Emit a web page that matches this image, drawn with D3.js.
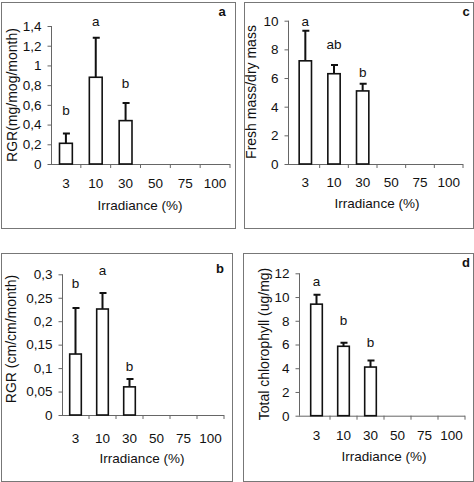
<!DOCTYPE html>
<html>
<head>
<meta charset="utf-8">
<script src="https://cdn.jsdelivr.net/npm/d3@7"></script>
<style>
  body { margin: 0; background: #fff; }
  svg { font-family: Arial, "Liberation Sans", sans-serif; }
  .axis path, .axis line { stroke: #666; }
  .axis text { fill: #111; font-size: 13.5px; }
</style>
</head>
<body>
<div id="chart"></div>
<script>
var svgWidth = 474;
var svgHeight = 482;

// categories on the x axis (irradiance, %)
var irradiance = ["3", "10", "30", "50", "75", "100"];

// panel a: RGR (mg/mg/month)
var rgrMass = [0.21, 0.88, 0.44];
var rgrMassErr = [0.10, 0.40, 0.18];
var rgrMassLetters = ["b", "a", "b"];
var rgrMassLetterY = [0.55, 1.45, 0.82];
var rgrMassTicks = [0, 0.2, 0.4, 0.6, 0.8, 1, 1.2, 1.4];

// panel c: fresh mass / dry mass
var freshDry = [7.2, 6.3, 5.1];
var freshDryErr = [2.1, 0.6, 0.5];
var freshDryLetters = ["a", "ab", "b"];
var freshDryLetterY = [10.0, 8.4, 6.45];
var freshDryTicks = [0, 2, 4, 6, 8, 10];

// panel b: RGR (cm/cm/month)
var rgrLength = [0.13, 0.226, 0.06];
var rgrLengthErr = [0.098, 0.034, 0.017];
var rgrLengthLetters = ["b", "a", "b"];
var rgrLengthLetterY = [0.281, 0.309, 0.105];
var rgrLengthTicks = [0, 0.05, 0.1, 0.15, 0.2, 0.25, 0.3];

// panel d: total chlorophyll (ug/mg)
var chlorophyll = [9.4, 5.85, 4.1];
var chlorophyllErr = [0.8, 0.3, 0.55];
var chlorophyllLetters = ["a", "b", "b"];
var chlorophyllLetterY = [11.35, 8.06, 6.23];
var chlorophyllTicks = [0, 2, 4, 6, 8, 10, 12];

var svg = d3.select("#chart")
  .append("svg")
  .attr("width", svgWidth)
  .attr("height", svgHeight);

var fmt = function(d) { return String(d).replace(".", ","); };

function drawPanel(p) {
  // frame
  svg.append("rect")
    .attr("x", p.box[0] + 0.5).attr("y", p.box[1] + 0.5)
    .attr("width", p.box[2] - p.box[0]).attr("height", p.box[3] - p.box[1])
    .attr("fill", "none").attr("stroke", "#777").attr("stroke-width", 1);

  var x = d3.scaleBand()
    .domain(irradiance)
    .range([p.x0, p.x1]);

  var y = d3.scaleLinear()
    .domain([0, p.ticks[p.ticks.length - 1]])
    .range([p.y0, p.y1]);

  var g = svg.append("g");

  // x axis: line with ticks at band boundaries
  var xAxis = g.append("g").attr("class", "axis");
  xAxis.append("line")
    .attr("x1", p.axisX).attr("x2", p.x1)
    .attr("y1", p.y0 + 0.5).attr("y2", p.y0 + 0.5);
  xAxis.selectAll(".xt")
    .data(irradiance)
    .enter().append("line")
    .attr("x1", d => x(d) + x.bandwidth()).attr("x2", d => x(d) + x.bandwidth())
    .attr("y1", p.y0).attr("y2", p.y0 + 4);
  xAxis.selectAll("text")
    .data(irradiance)
    .enter().append("text")
    .attr("x", d => x(d) + x.bandwidth() / 2)
    .attr("y", p.xLabelY)
    .attr("text-anchor", "middle")
    .text(d => d);

  // y axis
  var leftAxis = d3.axisLeft(y)
    .tickValues(p.ticks)
    .tickSize(4)
    .tickPadding(6)
    .tickFormat(fmt);
  g.append("g")
    .attr("class", "axis")
    .attr("transform", `translate(${p.axisX + 0.5},0)`)
    .call(leftAxis)
    .call(a => a.select(".domain").attr("d", `M0,${p.y0}V${p.y1}`));

  var cats = irradiance.slice(0, p.values.length);
  var bw = x.bandwidth() * 0.43;

  // error bars (upper only)
  g.selectAll(".err")
    .data(cats)
    .enter().append("path")
    .attr("d", (d, i) => {
      var cx = x(d) + x.bandwidth() / 2;
      var top = y(p.values[i] + p.err[i]);
      return `M${cx},${y(p.values[i])}V${top}M${cx - 3},${top}H${cx + 4}`;
    })
    .attr("fill", "none")
    .attr("stroke", "#111")
    .attr("stroke-width", 2);

  // bars
  g.selectAll(".bar")
    .data(cats)
    .enter().append("rect")
    .attr("x", d => x(d) + x.bandwidth() / 2 - bw / 2)
    .attr("y", (d, i) => y(p.values[i]))
    .attr("width", bw)
    .attr("height", (d, i) => y(0) - y(p.values[i]))
    .attr("fill", "#fff")
    .attr("stroke", "#111")
    .attr("stroke-width", 1.6);

  // significance letters
  g.selectAll(".letter")
    .data(cats)
    .enter().append("text")
    .attr("x", d => x(d) + x.bandwidth() / 2)
    .attr("y", (d, i) => y(p.letterY[i]) + 5)
    .attr("text-anchor", "middle")
    .attr("font-size", "13.5px")
    .attr("fill", "#111")
    .text((d, i) => p.letters[i]);

  // axis titles
  g.append("text")
    .attr("transform", `translate(${p.yTitle[0]},${p.yTitle[1]}) rotate(-90)`)
    .attr("text-anchor", "middle")
    .attr("dominant-baseline", "central")
    .attr("font-size", "14px")
    .attr("fill", "#111")
    .text(p.yLabel);

  g.append("text")
    .attr("x", p.xTitle[0]).attr("y", p.xTitle[1])
    .attr("text-anchor", "middle")
    .attr("dominant-baseline", "central")
    .attr("font-size", "13.5px")
    .attr("fill", "#111")
    .text("Irradiance (%)");

  // panel letter
  g.append("text")
    .attr("x", p.tag[0]).attr("y", p.tag[1])
    .attr("text-anchor", "middle")
    .attr("dominant-baseline", "central")
    .attr("font-size", "13px")
    .attr("font-weight", "bold")
    .attr("fill", "#111")
    .text(p.tagText);
}

drawPanel({
  box: [1, 2, 235, 228], axisX: 51, x0: 51, x1: 230, y0: 164, y1: 26,
  values: rgrMass, err: rgrMassErr, letters: rgrMassLetters, letterY: rgrMassLetterY,
  ticks: rgrMassTicks, xLabelY: 188, yLabel: "RGR(mg/mog/month)", yTitle: [12, 95],
  xTitle: [140, 205], tag: [222, 11], tagText: "a"
});

drawPanel({
  box: [244, 2, 473, 228], axisX: 288, x0: 291, x1: 463, y0: 164, y1: 20.7,
  values: freshDry, err: freshDryErr, letters: freshDryLetters, letterY: freshDryLetterY,
  ticks: freshDryTicks, xLabelY: 187, yLabel: "Fresh mass/dry mass", yTitle: [251, 92],
  xTitle: [377, 203], tag: [466, 11], tagText: "c"
});

drawPanel({
  box: [1, 253, 232, 481], axisX: 62, x0: 62, x1: 224, y0: 415, y1: 274.3,
  values: rgrLength, err: rgrLengthErr, letters: rgrLengthLetters, letterY: rgrLengthLetterY,
  ticks: rgrLengthTicks, xLabelY: 443, yLabel: "RGR (cm/cm/month)", yTitle: [11, 339],
  xTitle: [142, 458], tag: [220, 268], tagText: "b"
});

drawPanel({
  box: [243, 253, 473, 481], axisX: 299, x0: 303, x1: 465, y0: 415.7, y1: 273.3,
  values: chlorophyll, err: chlorophyllErr, letters: chlorophyllLetters, letterY: chlorophyllLetterY,
  ticks: chlorophyllTicks, xLabelY: 440, yLabel: "Total chlorophyll (ug/mg)", yTitle: [264, 344],
  xTitle: [384, 456], tag: [466, 262], tagText: "d"
});
</script>
</body>
</html>
